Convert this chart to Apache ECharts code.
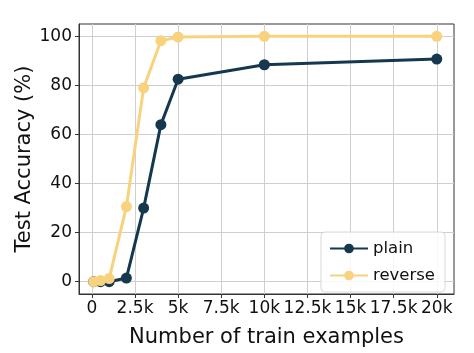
<!DOCTYPE html>
<html>
<head>
<meta charset="utf-8">
<script src="https://cdn.jsdelivr.net/npm/echarts@6/dist/echarts.min.js"></script>
<style>
  html, body { margin: 0; padding: 0; background: #fff; }
  #chart { width: 474px; height: 353px; }
</style>
</head>
<body>
<div id="chart"></div>
<script>
	// 数据
	var trainSizes = [100, 500, 1000, 2000, 3000, 4000, 5000, 10000, 20000];
	var plainAcc = [0, 0, 0, 1.5, 30, 64, 82.5, 88.4, 90.7];
	var reverseAcc = [0, 0.5, 1.3, 30.6, 79, 98.2, 99.7, 100, 100];
	var xTicks = [0, 2500, 5000, 7500, 10000, 12500, 15000, 17500, 20000];
	var yTicks = [0, 20, 40, 60, 80, 100];

	function pairs(xs, ys) {
		var out = [];
		for (var i = 0; i < xs.length; i++) {
			out.push([xs[i], ys[i]]);
		}
		return out;
	}

	var myChart = echarts.init(document.getElementById('chart'));
	var fontName = 'DejaVu Sans';
	myChart.setOption({
		animation: false,
		textStyle: { fontFamily: fontName },
		grid: {
			left: 79,
			right: 20,
			top: 24,
			bottom: 54,
			show: true,
			borderColor: '#333',
			borderWidth: 1
		},
		legend: {
			right: 29,
			bottom: 61,
			orient: 'vertical',
			itemWidth: 38,
			itemHeight: 12,
			itemGap: 10,
			padding: [8, 10, 8, 8],
			backgroundColor: 'rgba(255,255,255,0.85)',
			borderColor: '#d8d8d8',
			borderWidth: 1,
			borderRadius: 4,
			textStyle: { fontSize: 16.5, color: '#111', fontFamily: fontName },
			data: ['plain', 'reverse']
		},
		xAxis: {
			type: 'value',
			min: -750,
			max: 21000,
			name: 'Number of train examples',
			nameLocation: 'middle',
			nameGap: 33,
			nameMoveOverlap: false,
			nameTextStyle: { fontSize: 21, color: '#111' },
			axisLine: { show: true, onZero: false, lineStyle: { color: '#333', width: 1 } },
			axisTick: { show: true, length: 4, customValues: xTicks, lineStyle: { color: '#333' } },
			axisLabel: {
				customValues: xTicks,
				fontSize: 17,
				color: '#111',
				margin: 6,
				formatter: function (v) {
					return v === 0 ? '0' : (v / 1000) + 'k';
				}
			},
			splitLine: { show: true, lineStyle: { color: '#cfcfcf', width: 1 } }
		},
		yAxis: {
			type: 'value',
			min: -5,
			max: 105,
			name: 'Test Accuracy (%)',
			nameLocation: 'middle',
			nameGap: 44,
			nameMoveOverlap: false,
			nameTextStyle: { fontSize: 21, color: '#111' },
			axisLine: { show: true, onZero: false, lineStyle: { color: '#333', width: 1 } },
			axisTick: { show: true, length: 4, customValues: yTicks, lineStyle: { color: '#333' } },
			axisLabel: { customValues: yTicks, fontSize: 17, color: '#111', margin: 7 },
			splitLine: { show: true, lineStyle: { color: '#cfcfcf', width: 1 } }
		},
		series: [{
			name: 'plain',
			type: 'line',
			data: pairs(trainSizes, plainAcc),
			symbol: 'circle',
			symbolSize: 11,
			lineStyle: { color: '#15384e', width: 3 },
			itemStyle: { color: '#15384e' }
		}, {
			name: 'reverse',
			type: 'line',
			data: pairs(trainSizes, reverseAcc),
			symbol: 'circle',
			symbolSize: 11,
			lineStyle: { color: '#f8d27c', width: 3 },
			itemStyle: { color: '#f8d27c' }
		}]
	});
</script>
</body>
</html>
